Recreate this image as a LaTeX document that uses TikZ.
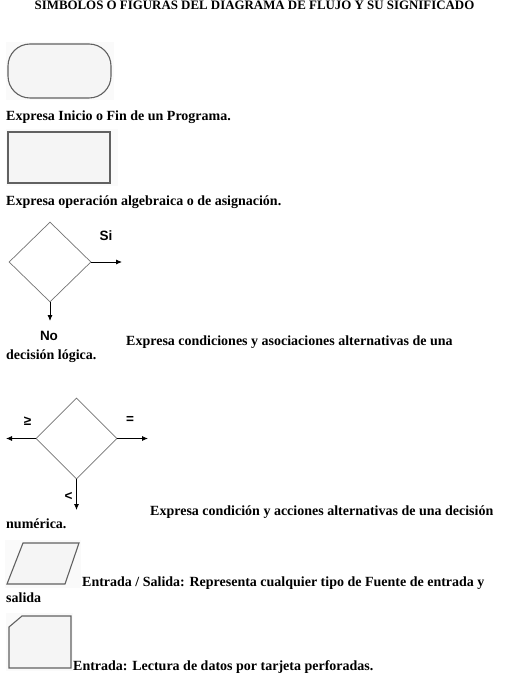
\documentclass[tikz,border=0pt]{standalone}
\usepackage{fontspec}
\setmainfont{Liberation Serif}
\newfontfamily\labelfont{Liberation Sans}
\usetikzlibrary{shapes.geometric,arrows.meta}

\begin{document}
\begin{tikzpicture}[x=1pt,y=-1pt,
  txt/.style={anchor=base west, inner sep=0pt, font=\fontsize{14}{16}\selectfont\bfseries},
  lbl/.style={inner sep=0pt, font=\fontsize{13.5}{15}\selectfont\labelfont\bfseries},
  sym/.style={draw=black!62, line width=1.1pt, fill=black!4},
  bg/.style={fill=black!2, draw=none},
  decision/.style={draw=black!55, line width=0.7pt, diamond, inner sep=0pt, aspect=1},
  flow/.style={draw, line width=0.8pt, -{Latex[length=6pt,width=5pt]}}]
\useasboundingbox (0,0) rectangle (512,692);

\node[inner sep=0pt, anchor=base, font=\fontsize{12.9}{14}\selectfont\bfseries] (title) at (254.5,9.5)
  {SIMBOLOS O FIGURAS DEL DIAGRAMA DE FLUJO Y SU SIGNIFICADO};

% inicio / fin
\fill[bg] (6,42) rectangle (114,100);
\node[sym, rectangle, rounded corners=22pt, minimum width=103pt, minimum height=54pt] (term) at (59.5,71) {};
\node[txt] (t1) at (6,120.5) {Expresa Inicio o Fin de un Programa.};

% proceso
\fill[bg] (6,129) rectangle (118,186);
\node[sym, rectangle, minimum width=102pt, minimum height=51pt] (proc) at (59,157.5) {};
\node[txt] (t2) at (6,206) {Expresa operación algebraica o de asignación.};

% decision logica
\node[decision, minimum width=82pt, minimum height=80pt] (d1) at (50,262) {};
\coordinate (si) at (122,262);
\coordinate (no) at (50,321);
\path[flow] (d1.east) -- (si);
\path[flow] (d1.south) -- (no);
\node[lbl] (lsi) at (106,236) {Si};
\node[lbl] (lno) at (49,336) {No};
\node[txt] (t3) at (126,345) {Expresa condiciones y asociaciones alternativas de una};
\node[txt] (t3b) at (6,359) {decisión lógica.};

% decision numerica
\node[decision, minimum width=81pt, minimum height=81pt] (d2) at (76.5,438.5) {};
\coordinate (mayor) at (6,438.5);
\coordinate (igual) at (148,438.5);
\coordinate (menor) at (76.5,510);
\path[flow] (d2.west) -- (mayor);
\path[flow] (d2.east) -- (igual);
\path[flow] (d2.south) -- (menor);
\node[lbl] (lmay) at (27.5,421) {≥};
\node[lbl] (ligu) at (130,420) {=};
\node[lbl] (lmen) at (68.5,496) {<};
\node[txt] (t4) at (150,515) {Expresa condición y acciones alternativas de una decisión};
\node[txt] (t4b) at (6,528) {numérica.};

% entrada / salida
\fill[bg] (5,540) rectangle (81,588);
\draw[sym] (23,543) -- (79,543) -- (65,584) -- (7,584) -- cycle;
\node[txt] (t5) at (82,586.5) {Entrada / Salida: Representa cualquier tipo de Fuente de entrada y};
\node[txt] (t5b) at (6,602.5) {salida};

% tarjeta
\fill[bg] (6,613) rectangle (73,671);
\draw[sym] (22,616) -- (71,616) -- (71,668) -- (9,668) -- (9,627) -- cycle;
\node[txt] (t6) at (73,670) {Entrada: Lectura de datos por tarjeta perforadas.};
\end{tikzpicture}
\end{document}
